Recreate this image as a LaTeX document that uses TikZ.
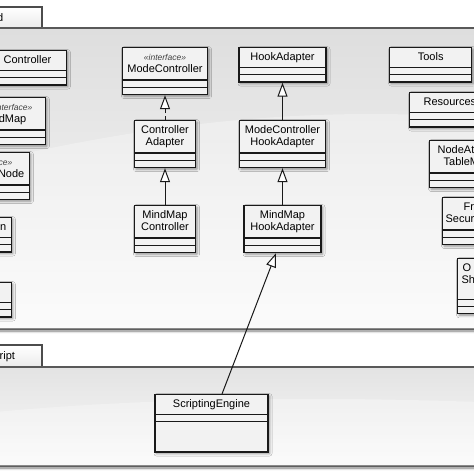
\documentclass[tikz,border=0pt]{standalone}
\usepackage{fontspec}
\setmainfont{Liberation Sans}
\usepackage{tikz}
\usetikzlibrary{shapes}
\usetikzlibrary{positioning}
\usetikzlibrary{arrows.meta}
\usetikzlibrary{shadows.blur}

\newcommand{\iface}{{\fontsize{8.5}{9}\itshape\color{black!75}«interface»}}
\newcommand{\cname}[2][c]{\begin{tabular}{@{}#1@{}}#2\end{tabular}}
\newcommand{\nocmp}{\nodepart{two}\rule{0.1pt}{0pt}\nodepart{three}\rule{0.1pt}{0pt}}

\begin{document}
\begin{tikzpicture}[x=1pt,y=-1pt]
	\tikzstyle{class}=[rectangle split, rectangle split parts=3, rectangle split ignore empty parts=false,
		draw=black!90, line width=1.3pt, fill=black!5, inner xsep=3pt, inner ysep=3pt,
		font=\fontsize{11}{12.5}\selectfont,
		blur shadow={shadow xshift=1.5pt, shadow yshift=-1.5pt, shadow blur radius=2.5pt, shadow opacity=45}]
	\tikzstyle{edge}=[draw=black!90, line width=1pt, -{Triangle[length=14pt,width=10pt,fill=white]}]
	\tikzstyle{pkg}=[draw=black!65, line width=1.8pt, blur shadow={shadow xshift=0pt, shadow yshift=-2pt, shadow blur radius=2.5pt, shadow opacity=50}]
	\tikzstyle{tab}=[draw=black!70, line width=1.2pt, top color=white, bottom color=black!8]
	\tikzstyle{tabtext}=[font=\fontsize{11}{12.5}\selectfont, inner sep=0pt]

	\useasboundingbox (0,0) rectangle (474,474);
	\clip (0,0) rectangle (474,474);

	% packages
	\draw[tab] (-5,7) rectangle (42,28);
	\node[tabtext, anchor=east] (tabtop) at (3.5,18) {d};
	\path[pkg, top color=black!13, bottom color=black!2] (-5,28) rectangle (480,329);
	\fill[white, opacity=0.3] (-5,160) .. controls (150,125) and (300,105) .. (480,118) -- (480,329) -- (-5,329) -- cycle;

	\draw[tab] (-5,345) rectangle (42,367);
	\node[tabtext, anchor=west] (tabbot) at (-0.5,357) {ript};
	\path[pkg, top color=black!11, bottom color=black!2] (-5,367) rectangle (480,466);
	\fill[white, opacity=0.3] (-5,412) .. controls (150,398) and (300,396) .. (480,402) -- (480,466) -- (-5,466) -- cycle;

	% left column (cut)
	\node [class, anchor=north east, minimum width=90pt, inner xsep=15pt, rectangle split part align=right] (ctrl) at (67,50)
		{Controller\strut\nocmp};
	\node [class, anchor=north east, minimum width=90pt, inner xsep=13pt, rectangle split part align=right] (mmap) at (46,97)
		{\cname[r]{\iface\\dMap\hspace*{6pt}}\nocmp};
	\node [class, anchor=north east, minimum width=60pt, inner xsep=5pt, rectangle split part align=right] (mnode) at (30,152)
		{\cname[r]{\iface\hspace*{12pt}\\Node}\nocmp};
	\node [class, anchor=north east, minimum width=40pt, inner xsep=5pt, rectangle split part align=right] (nbox) at (12,217)
		{n\strut\nocmp};
	\node [class, anchor=north east, minimum width=40pt] (lbox) at (12,282)
		{\strut\nocmp};

	% controllers
	\node [class, anchor=north, minimum width=85pt] (modectrl) at (165,47)
		{\cname{\iface\\ModeController}\nocmp};
	\node [class, anchor=north, minimum width=61pt] (ctrladapt) at (165,120)
		{\cname{Controller\\Adapter}\nocmp};
	\node [class, anchor=north, minimum width=61pt] (mmctrl) at (165,205)
		{\cname{MindMap\\Controller}\nocmp};

	% hooks
	\node [class, anchor=north, minimum width=87pt] (hook) at (282.5,47)
		{HookAdapter\strut\nocmp};
	\node [class, anchor=north, minimum width=86pt] (mchook) at (282.5,120)
		{\cname{ModeController\\HookAdapter}\nocmp};
	\node [class, anchor=north, minimum width=77pt] (mmhook) at (282.5,205)
		{\cname{MindMap\\HookAdapter}\nocmp};

	% right column (cut)
	\node [class, anchor=north west, minimum width=82pt] (tools) at (389,47)
		{Tools\strut\nocmp};
	\node [class, anchor=north west, minimum width=90pt, inner xsep=14pt, rectangle split part align=left] (res) at (409,92)
		{Resources\strut\nocmp};
	\node [class, anchor=north west, minimum width=80pt, inner xsep=8pt, rectangle split part align=left] (nodeat) at (429,140)
		{\cname[l]{NodeAt\\\hspace*{6pt}TableM}\nocmp};
	\node [class, anchor=north west, minimum width=60pt, inner xsep=3pt, rectangle split part align=left] (fsec) at (442,197)
		{\cname[l]{\hspace*{18pt}Fr\\Secur}\nocmp};
	\node [class, anchor=north west, minimum width=40pt, inner xsep=4pt, rectangle split part align=left] (osh) at (457,258)
		{\cname[l]{\hspace*{1pt}O\\Sh\rule[-12pt]{0pt}{0pt}}\nocmp};

	% script
	\node [class, anchor=north, minimum width=113pt] (engine) at (211.5,394)
		{ScriptingEngine\strut\nodepart{two}\rule{0.1pt}{0pt}\nodepart{three}\rule{0pt}{23pt}\hspace*{0.1pt}};

	\path[edge, dash pattern=on 4pt off 3pt] (ctrladapt) -- (modectrl);
	\path[edge] (mmctrl) -- (ctrladapt);
	\path[edge] (mchook) -- (hook);
	\path[edge] (mmhook) -- (mchook);
	\path[edge] ([xshift=10.5pt]engine.north) -- ([xshift=-6.5pt]mmhook.south);

\end{tikzpicture}
\end{document}
